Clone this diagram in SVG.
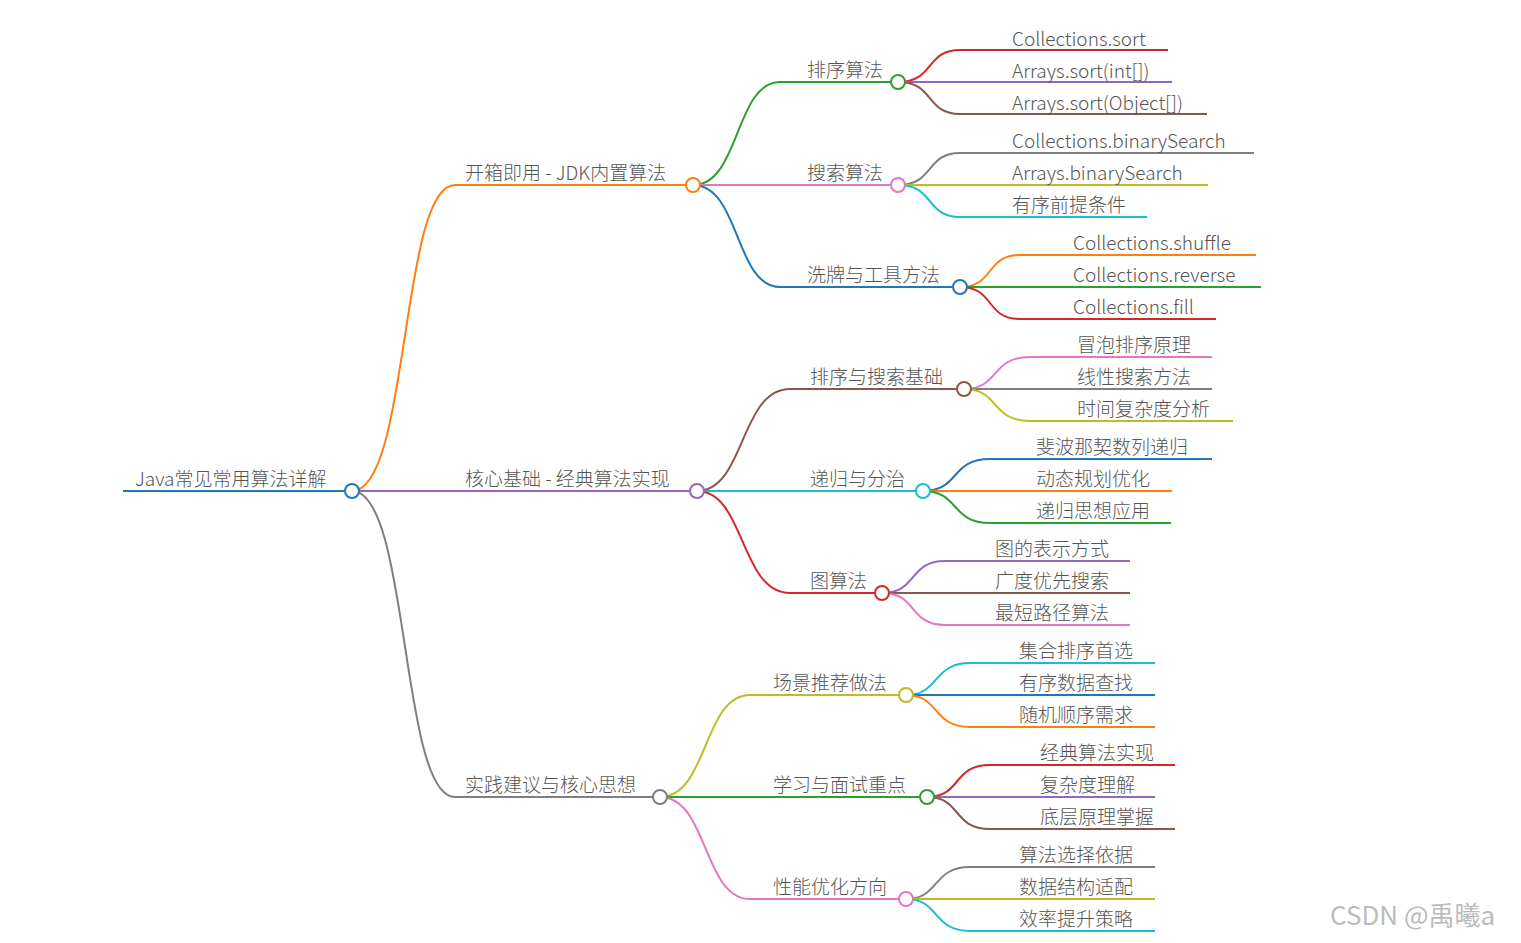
<svg xmlns="http://www.w3.org/2000/svg" width="1521" height="943" viewBox="0 0 1521 943">
<style>
text{font-family:"Noto Sans CJK SC","Noto Sans",sans-serif;font-size:19px;fill:#555;font-weight:300}
.c path{fill:none;stroke-width:2}
circle{fill:#fff;stroke-width:2}
.wm{font-size:26px;fill:#bbb;font-weight:400}
</style>
<rect width="1521" height="943" fill="#fff"/>
<g class="c" id="connectors">
<path d="M123,491H352" stroke="#1f77b4"/>
<path d="M352,491C410,491 400,185 455,185H693" stroke="#ff7f0e"/>
<path d="M352,491H697" stroke="#9467bd"/>
<path d="M352,491C410,491 400,797 455,797H660" stroke="#7f7f7f"/>
<path d="M693,185C740,185 735,82 780,82H898" stroke="#2ca02c"/>
<path d="M693,185H898" stroke="#e377c2"/>
<path d="M693,185C740,185 735,287 780,287H960" stroke="#1f77b4"/>
<path d="M898,82C935,82 925,50 960,50H1168" stroke="#d62728"/>
<path d="M898,82H1172" stroke="#9467bd"/>
<path d="M898,82C935,82 925,114 960,114H1207" stroke="#8c564b"/>
<path d="M898,185C935,185 925,153 960,153H1254" stroke="#7f7f7f"/>
<path d="M898,185H1208" stroke="#bcbd22"/>
<path d="M898,185C935,185 925,217 960,217H1147" stroke="#17becf"/>
<path d="M960,287C995,287 985,255 1020,255H1256" stroke="#ff7f0e"/>
<path d="M960,287H1261" stroke="#2ca02c"/>
<path d="M960,287C995,287 985,319 1020,319H1216" stroke="#d62728"/>
<path d="M697,491C745,491 740,389 790,389H964" stroke="#8c564b"/>
<path d="M697,491H923" stroke="#17becf"/>
<path d="M697,491C745,491 740,593 790,593H882" stroke="#d62728"/>
<path d="M964,389C1000,389 990,357 1030,357H1212" stroke="#e377c2"/>
<path d="M964,389H1212" stroke="#7f7f7f"/>
<path d="M964,389C1000,389 990,421 1030,421H1233" stroke="#bcbd22"/>
<path d="M923,491C960,491 950,459 990,459H1212" stroke="#1f77b4"/>
<path d="M923,491H1172" stroke="#ff7f0e"/>
<path d="M923,491C960,491 950,523 990,523H1171" stroke="#2ca02c"/>
<path d="M882,593C918,593 908,561 945,561H1130" stroke="#9467bd"/>
<path d="M882,593H1130" stroke="#8c564b"/>
<path d="M882,593C918,593 908,625 945,625H1130" stroke="#e377c2"/>
<path d="M660,797C708,797 703,695 750,695H906" stroke="#bcbd22"/>
<path d="M660,797H927" stroke="#2ca02c"/>
<path d="M660,797C708,797 703,899 750,899H906" stroke="#e377c2"/>
<path d="M906,695C940,695 932,663 970,663H1155" stroke="#17becf"/>
<path d="M906,695H1155" stroke="#1f77b4"/>
<path d="M906,695C940,695 932,727 970,727H1155" stroke="#ff7f0e"/>
<path d="M927,797C962,797 952,765 990,765H1175" stroke="#d62728"/>
<path d="M927,797H1155" stroke="#9467bd"/>
<path d="M927,797C962,797 952,829 990,829H1175" stroke="#8c564b"/>
<path d="M906,899C940,899 932,867 970,867H1155" stroke="#7f7f7f"/>
<path d="M906,899H1155" stroke="#bcbd22"/>
<path d="M906,899C940,899 932,931 970,931H1155" stroke="#17becf"/>
</g>
<g id="root"><text x="135" y="486">Java常见常用算法详解</text><circle cx="352" cy="491" r="7" stroke="#1f77b4"/></g>
<g id="n1"><text x="465" y="180">开箱即用 - JDK内置算法</text><circle cx="693" cy="185" r="7" stroke="#ff7f0e"/></g>
<g id="n2"><text x="465" y="486">核心基础 - 经典算法实现</text><circle cx="697" cy="491" r="7" stroke="#9467bd"/></g>
<g id="n3"><text x="465" y="792">实践建议与核心思想</text><circle cx="660" cy="797" r="7" stroke="#7f7f7f"/></g>
<g id="n11"><text x="807" y="77">排序算法</text><circle cx="898" cy="82" r="7" stroke="#2ca02c"/></g>
<g id="n12"><text x="807" y="180">搜索算法</text><circle cx="898" cy="185" r="7" stroke="#e377c2"/></g>
<g id="n13"><text x="807" y="282">洗牌与工具方法</text><circle cx="960" cy="287" r="7" stroke="#1f77b4"/></g>
<g id="n21"><text x="810" y="384">排序与搜索基础</text><circle cx="964" cy="389" r="7" stroke="#8c564b"/></g>
<g id="n22"><text x="810" y="486">递归与分治</text><circle cx="923" cy="491" r="7" stroke="#17becf"/></g>
<g id="n23"><text x="810" y="588">图算法</text><circle cx="882" cy="593" r="7" stroke="#d62728"/></g>
<g id="n31"><text x="773" y="690">场景推荐做法</text><circle cx="906" cy="695" r="7" stroke="#bcbd22"/></g>
<g id="n32"><text x="773" y="792">学习与面试重点</text><circle cx="927" cy="797" r="7" stroke="#2ca02c"/></g>
<g id="n33"><text x="773" y="894">性能优化方向</text><circle cx="906" cy="899" r="7" stroke="#e377c2"/></g>
<g id="leaves">
<text x="1012" y="46">Collections.sort</text>
<text x="1012" y="78">Arrays.sort(int[])</text>
<text x="1012" y="110">Arrays.sort(Object[])</text>
<text x="1012" y="148">Collections.binarySearch</text>
<text x="1012" y="180">Arrays.binarySearch</text>
<text x="1012" y="212">有序前提条件</text>
<text x="1073" y="250">Collections.shuffle</text>
<text x="1073" y="282">Collections.reverse</text>
<text x="1073" y="314">Collections.fill</text>
<text x="1077" y="352">冒泡排序原理</text>
<text x="1077" y="384">线性搜索方法</text>
<text x="1077" y="416">时间复杂度分析</text>
<text x="1036" y="454">斐波那契数列递归</text>
<text x="1036" y="486">动态规划优化</text>
<text x="1036" y="518">递归思想应用</text>
<text x="995" y="556">图的表示方式</text>
<text x="995" y="588">广度优先搜索</text>
<text x="995" y="620">最短路径算法</text>
<text x="1019" y="658">集合排序首选</text>
<text x="1019" y="690">有序数据查找</text>
<text x="1019" y="722">随机顺序需求</text>
<text x="1040" y="760">经典算法实现</text>
<text x="1040" y="792">复杂度理解</text>
<text x="1040" y="824">底层原理掌握</text>
<text x="1019" y="862">算法选择依据</text>
<text x="1019" y="894">数据结构适配</text>
<text x="1019" y="926">效率提升策略</text>
</g>
<text class="wm" x="1330" y="925">CSDN @禹曦a</text>
</svg>
